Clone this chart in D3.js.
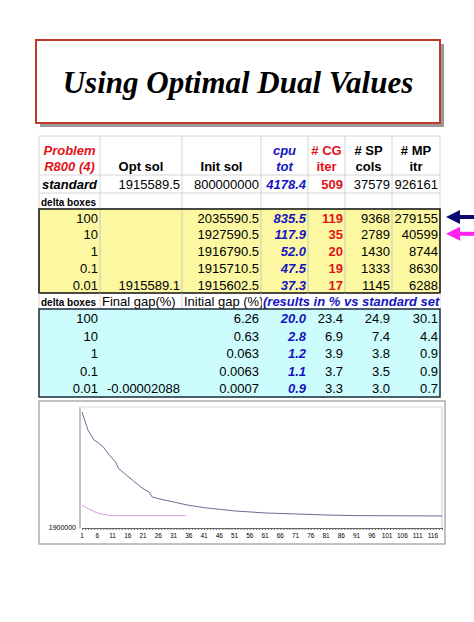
<!DOCTYPE html>
<html><head><meta charset="utf-8">
<script src="https://cdn.jsdelivr.net/npm/d3@7"></script>
<style>body{margin:0;background:#fff}svg{display:block}</style>
</head><body>
<script>
const title = "Using Optimal Dual Values";
const headers1 = ["Problem","","","cpu","# CG","# SP","# MP"];
const headers2 = ["R800 (4)","Opt sol","Init sol","tot","iter","cols","itr"];
const standardRow = ["standard","1915589.5","800000000","4178.4","509","37579","926161"];
const deltas = ["100","10","1","0.1","0.01"];
const optSol = ["","","","","1915589.1"];
const initSol = ["2035590.5","1927590.5","1916790.5","1915710.5","1915602.5"];
const cpuTot = ["835.5","117.9","52.0","47.5","37.3"];
const cgIter = ["119","35","20","19","17"];
const spCols = ["9368","2789","1430","1333","1145"];
const mpItr = ["279155","40599","8744","8630","6288"];
const finalGap = ["","","","","-0.00002088"];
const initGap = ["6.26","0.63","0.063","0.0063","0.0007"];
const pctCpu = ["20.0","2.8","1.2","1.1","0.9"];
const pctCg = ["23.4","6.9","3.9","3.7","3.3"];
const pctSp = ["24.9","7.4","3.8","3.5","3.0"];
const pctMp = ["30.1","4.4","0.9","0.9","0.7"];
// chart series: [iteration, objective]
const delta100 = [[1,2035590],[3,2014450],[5,2002900],[6,2001000],[8,1995200],[10,1985600],[12,1977900],[13,1970200],[15,1964400],[18,1955600],[21,1947100],[23,1943300],[24,1937500],[26,1935600],[31,1931700],[36,1927900],[41,1925200],[51,1921400],[61,1919050],[71,1917900],[81,1916700],[91,1916000],[119,1915590]];
const delta10 = [[1,1927900],[3,1924050],[6,1919050],[9,1916700],[11,1916000],[35,1916000]];
const xTicks = d3.range(1,117,5);
const yLabel = "1900000";

const W=474,H=622;
const svg=d3.select("body").append("svg").attr("width",W).attr("height",H);
const F="Liberation Sans, Arial, sans-serif";
const RED="#e3121b", BLUE="#1515c0";

// title box
svg.append("rect").attr("x",40).attr("y",44).attr("width",404).attr("height",83).attr("fill","#999");
svg.append("rect").attr("x",36).attr("y",40).attr("width",404).attr("height",83).attr("fill","#fff").attr("stroke","#c0392b").attr("stroke-width",2);
svg.append("text").attr("x",238).attr("y",93).attr("text-anchor","middle")
  .attr("font-family","Liberation Serif, Times New Roman, serif").attr("font-style","italic").attr("font-weight","bold")
  .attr("font-size",31).text(title);

// table
const colX=[39,100,182,261,308,345,392,440];
const g=svg.append("g").attr("font-family",F);
function vlines(y0,y1,col){colX.forEach(x=>g.append("line").attr("x1",x).attr("x2",x).attr("y1",y0).attr("y2",y1).attr("stroke",col).attr("stroke-width",0.8));}
function hline(y,col){g.append("line").attr("x1",39).attr("x2",440).attr("y1",y).attr("y2",y).attr("stroke",col).attr("stroke-width",0.8);}
// top section
vlines(136,209,"#ccc");[136,175,193,209].forEach(y=>hline(y,"#ccc"));
function cellText(ci,y,t,opt={}){
  const anchor=opt.anchor||"end";
  const x = anchor==="end"?colX[ci+1]-2:anchor==="middle"?(colX[ci]+colX[ci+1])/2:colX[ci]+2;
  g.append("text").attr("x",x).attr("y",y).attr("text-anchor",anchor).attr("font-size",opt.size||13)
   .attr("font-weight",opt.bold?"bold":"normal").attr("font-style",opt.italic?"italic":"normal")
   .attr("fill",opt.color||"#000").text(t);
}
headers1.forEach((t,i)=>cellText(i,155,t,{anchor:"middle",bold:true,italic:i<4&&i!==1&&i!==2,color:i===0?RED:i===3?BLUE:i===4?RED:"#000"}));
headers2.forEach((t,i)=>cellText(i,171,t,{anchor:"middle",bold:true,italic:i===0||i===3,color:i===0?RED:i===3?BLUE:i===4?RED:"#000"}));
standardRow.forEach((t,i)=>cellText(i,189,t,{anchor:i===0?"middle":"end",bold:i===0||i===3||i===4,italic:i===0||i===3,color:i===3?BLUE:i===4?RED:"#000"}));
cellText(0,206,"delta boxes",{anchor:"start",bold:true,size:10});

// yellow block
const y0=209,rh=16.8;
g.append("rect").attr("x",39).attr("y",y0).attr("width",401).attr("height",rh*5).attr("fill","#fcf8a2");
vlines(y0,y0+rh*5,"#bbb");
g.append("rect").attr("x",39).attr("y",y0).attr("width",401).attr("height",rh*5).attr("fill","none").attr("stroke","#111").attr("stroke-width",1.5);
deltas.forEach((d,r)=>{
  const y=y0+rh*r+13.5;
  [d,optSol[r],initSol[r],cpuTot[r],cgIter[r],spCols[r],mpItr[r]].forEach((t,i)=>
    cellText(i,y,t,{bold:i===3||i===4,italic:i===3,color:i===3?BLUE:i===4?RED:"#000"}));
});
// lower header
const yh=y0+rh*5;
vlines(yh,yh+16,"#ccc");
cellText(0,yh+13,"delta boxes",{anchor:"start",bold:true,size:10});
cellText(1,yh+13,"Final gap(%)",{anchor:"start"});
cellText(2,yh+13,"Initial gap (%)",{anchor:"start"});
g.append("rect").attr("x",262).attr("y",yh+1).attr("width",178).attr("height",15).attr("fill","#fff");
cellText(3,yh+13,"(results in % vs standard set",{anchor:"start",bold:true,italic:true,color:BLUE});
// cyan block
const y1=yh+16,rh2=17.6;
g.append("rect").attr("x",39).attr("y",y1).attr("width",401).attr("height",rh2*5).attr("fill","#ccfcfc")
  .attr("stroke","#1a2a3a").attr("stroke-width",1.5);
deltas.forEach((d,r)=>{
  const y=y1+rh2*r+14;
  [d,finalGap[r],initGap[r],pctCpu[r],pctCg[r],pctSp[r],pctMp[r]].forEach((t,i)=>
    cellText(i,y,t,{bold:i===3,italic:i===3,color:i===3?BLUE:"#000"}));
});

// arrows
function arrow(y,c){
  svg.append("line").attr("x1",474).attr("x2",458).attr("y1",y).attr("y2",y).attr("stroke",c).attr("stroke-width",4);
  svg.append("path").attr("d",`M446,${y} L460,${y-7} L460,${y+7} Z`).attr("fill",c);
}
arrow(y0+rh*0+8,"#0a0a70");
arrow(y0+rh*1+8,"#ff22ee");

// chart
svg.append("rect").attr("x",39).attr("y",401).attr("width",406).attr("height",143).attr("fill","#fff").attr("stroke","#999").attr("stroke-width",1.2);
const x=d3.scaleLinear().domain([1,119]).range([82,442]);
const y=d3.scaleLinear().domain([1901700,2035590]).range([528,412]);
const pg=svg.append("g");
pg.append("line").attr("x1",80).attr("x2",80).attr("y1",407).attr("y2",528).attr("stroke","#888");
pg.append("line").attr("x1",442).attr("x2",442).attr("y1",407).attr("y2",528).attr("stroke","#ccc");
pg.append("line").attr("x1",80).attr("x2",442).attr("y1",407).attr("y2",407).attr("stroke","#ddd");
const ax=pg.append("g").attr("transform","translate(0,528)").call(d3.axisBottom(x).tickValues(d3.range(1,120)).tickSize(2).tickFormat(""));
ax.selectAll("path,line").attr("stroke","#666");
xTicks.forEach(t=>pg.append("text").attr("x",x(t)).attr("y",538).attr("text-anchor","middle").attr("font-family",F).attr("font-size",6.5).text(t));
pg.append("text").attr("x",76).attr("y",530).attr("text-anchor","end").attr("font-family",F).attr("font-size",7).text(yLabel);
const line=d3.line().x(d=>x(d[0])).y(d=>y(d[1]));
pg.append("path").datum(delta100).attr("d",line).attr("fill","none").attr("stroke","#5a5a8a").attr("stroke-width",0.9);
pg.append("path").datum(delta10).attr("d",line).attr("fill","none").attr("stroke","#d090d8").attr("stroke-width",0.9);
</script>
</body></html>
